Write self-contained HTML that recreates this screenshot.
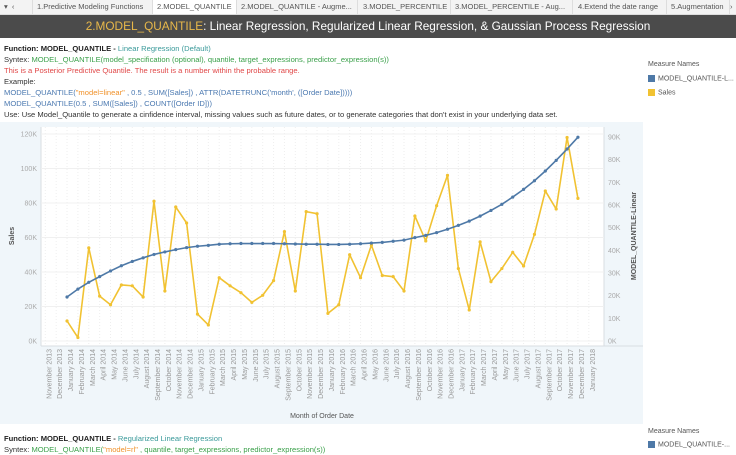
<!DOCTYPE html>
<html><head><meta charset="utf-8"><style>
body{margin:0;width:736px;height:454px;overflow:hidden;background:#fff;font-family:"Liberation Sans",sans-serif;position:relative}
.tabs{position:absolute;left:0;top:0;width:736px;height:14px;background:#f3f3f3;border-bottom:1px solid #ddd;font-size:7.5px;color:#555}
.tab{position:absolute;top:0;height:14px;line-height:14px;border-right:1px solid #ddd;padding-left:4px;white-space:nowrap;overflow:hidden}
.title{position:absolute;left:0;top:15px;width:736px;height:23px;background:#4b4b4b;color:#fff;font-size:11.8px;line-height:23px;text-align:center}
.txt{position:absolute;left:4px;font-size:7.6px;line-height:11px;white-space:nowrap;color:#333}
.g{color:#3aa04a}.t{color:#3a9a9a}.r{color:#e04848}.b{color:#4a78b0}.o{color:#f0922b}
.leg{position:absolute;left:648px;font-size:7px;color:#555}
.sw{display:inline-block;width:7px;height:7px;vertical-align:middle;margin-right:3px}
</style></head><body>
<div class="tabs">
<div class="tab" style="left:0;width:28px">▾ &nbsp;‹</div>
<div class="tab" style="left:33px;width:115px">1.Predictive Modeling Functions</div>
<div class="tab" style="left:153px;width:79px;background:#fff">2.MODEL_QUANTILE</div>
<div class="tab" style="left:237px;width:116px">2.MODEL_QUANTILE - Augme...</div>
<div class="tab" style="left:359px;width:87px">3.MODEL_PERCENTILE</div>
<div class="tab" style="left:451px;width:117px">3.MODEL_PERCENTILE - Aug...</div>
<div class="tab" style="left:574px;width:88px">4.Extend the date range</div>
<div class="tab" style="left:667px;width:58px">5.Augmentation</div>
<div class="tab" style="left:726px;width:10px;border:none">›</div>
</div>
<div class="title"><span style="color:#e8b84a">2.MODEL_QUANTILE</span>: Linear Regression, Regularized Linear Regression, &amp; Gaussian Process Regression</div>
<div class="txt" style="top:43px"><b style="color:#222">Function: MODEL_QUANTILE - </b><span class="t">Linear Regression (Default)</span></div>
<div class="txt" style="top:54px">Syntex: <span class="g">MODEL_QUANTILE(model_specification (optional), quantile, target_expressions, predictor_expression(s))</span></div>
<div class="txt r" style="top:65px">This is a Posterior Predictive Quantile. The result is a number within the probable range.</div>
<div class="txt" style="top:76px">Example:</div>
<div class="txt b" style="top:87px">MODEL_QUANTILE(<span class="o">"model=linear"</span> , 0.5 , SUM([Sales]) , ATTR(DATETRUNC('month', ([Order Date]))))</div>
<div class="txt b" style="top:98px">MODEL_QUANTILE(0.5 , SUM([Sales]) , COUNT([Order ID]))</div>
<div class="txt" style="top:109px">Use: Use Model_Quantile to generate a cinfidence interval, missing values such as future dates, or to generate categories that don't exist in your underlying data set.</div>
<div class="leg" style="top:61px">Measure Names</div>
<div class="leg" style="top:75px"><span class="sw" style="background:#4e79a7"></span>MODEL_QUANTILE-L...</div>
<div class="leg" style="top:89px"><span class="sw" style="background:#f1c232"></span>Sales</div>

<svg id="chart" style="position:absolute;left:0;top:0" width="736" height="454"></svg>

<div class="txt" style="top:433px"><b style="color:#222">Function: MODEL_QUANTILE - </b><span class="t">Regularized Linear Regression</span></div>
<div class="txt" style="top:444px">Syntex: <span class="g">MODEL_QUANTILE(<span class="o">"model=rl"</span> , quantile, target_expressions, predictor_expression(s))</span></div>
<div class="leg" style="top:428px">Measure Names</div>
<div class="leg" style="top:441px"><span class="sw" style="background:#4e79a7"></span>MODEL_QUANTILE-...</div>

<script>
const months = ["November 2013","December 2013","January 2014","February 2014","March 2014","April 2014","May 2014","June 2014","July 2014","August 2014","September 2014","October 2014","November 2014","December 2014","January 2015","February 2015","March 2015","April 2015","May 2015","June 2015","July 2015","August 2015","September 2015","October 2015","November 2015","December 2015","January 2016","February 2016","March 2016","April 2016","May 2016","June 2016","July 2016","August 2016","September 2016","October 2016","November 2016","December 2016","January 2017","February 2017","March 2017","April 2017","May 2017","June 2017","July 2017","August 2017","September 2017","October 2017","November 2017","December 2017","January 2018"];
const sales = [null,null,11.6,2,54,26,21,32.5,32,25.5,81,29,77.7,68.4,15.6,9.3,36.7,32,28,22.4,26.5,35,63.4,29,75,73.8,16,21,50,36.7,55.6,38,37.3,29,72.5,58,78.4,96,42,18,57.5,34.4,42,51.4,43.5,61.8,87,76.5,118,82.7,null];
const quantile = [null,null,19.4,22.9,25.9,28.4,30.9,33.2,35.1,36.7,38.2,39.3,40.3,41.2,41.8,42.2,42.7,42.9,43,43,43,43,42.9,42.8,42.7,42.7,42.6,42.6,42.7,42.9,43.2,43.5,44,44.5,45.6,46.6,47.8,49.3,51,52.9,55.1,57.6,60.3,63.5,66.9,70.7,75,79.7,84.7,89.9,null];
const leftTicks = [0,20,40,60,80,100,120];
const rightTicks = [0,10,20,30,40,50,60,70,80,90];

const svg=document.getElementById('chart');
const NS='http://www.w3.org/2000/svg';
function el(t,a,p){const e=document.createElementNS(NS,t);for(const k in a)e.setAttribute(k,a[k]);(p||svg).appendChild(e);return e;}
const X0=45.3, STEP=10.87, PL=41, PR=604, PT=127, PB=346;
const x=i=>X0+i*STEP;
const yL=v=>341-v*(207/120);
const yR=v=>341-v*(204/90);

let r=el('rect',{x:0,y:122,width:643,height:302,fill:'#f0f6fa'});

r=el('rect',{x:PL,y:PT,width:PR-PL,height:PB-PT,fill:'#fff'});

el('line',{x1:PL,y1:PB,x2:643,y2:PB,stroke:'#d8dde2'});
el('line',{x1:PR,y1:PT,x2:PR,y2:PB,stroke:'#d8dde2'});
el('line',{x1:PL,y1:PT,x2:PL,y2:PB,stroke:'#d8dde2'});

months.forEach((m,i)=>{
  const g=el('line',{x1:x(i),y1:PT,x2:x(i),y2:PB,stroke:'#eee','stroke-dasharray':'1,2'});
  
  const t=el('text',{x:0,y:0,transform:`translate(${x(i)+6},349) rotate(-90)`,'text-anchor':'end','font-size':'7px',fill:'#999'});
  t.textContent=m;
  
});
leftTicks.forEach(v=>{
  const g=el('line',{x1:PL,y1:yL(v),x2:PR,y2:yL(v),stroke:'#f0f0f0'});
  
  const t=el('text',{x:37,y:yL(v)+2.5,'text-anchor':'end','font-size':'7px',fill:'#aaa'});
  t.textContent=v+'K';
  
});
rightTicks.forEach(v=>{
  const t=el('text',{x:608,y:yR(v)+2.5,'font-size':'7px',fill:'#aaa'});
  t.textContent=v+'K';
  
});
let t=el('text',{transform:'translate(14,236) rotate(-90)','text-anchor':'middle','font-size':'7px',fill:'#555','font-weight':'bold'});
t.textContent='Sales';

t=el('text',{transform:'translate(636,236) rotate(-90)','text-anchor':'middle','font-size':'7px',fill:'#555','font-weight':'bold'});
t.textContent='MODEL_QUANTILE-Linear';

t=el('text',{x:322,y:418,'text-anchor':'middle','font-size':'7px',fill:'#555'});
t.textContent='Month of Order Date';


function series(arr,yf,color,name){
  const pts=[];arr.forEach((v,i)=>{if(v!==null)pts.push([x(i),yf(v)]);});
  const p=el('polyline',{points:pts.map(q=>q.join(',')).join(' '),fill:'none',stroke:color,'stroke-width':1.6,'stroke-linejoin':'round'});
  
  pts.forEach(q=>{
    const c=el('circle',{cx:q[0],cy:q[1],r:1.6,fill:color});
    
  });
}
series(sales,yL,'#f1c232','sales');
series(quantile,yR,'#4e79a7','model-quantile');
</script>
</body></html>
